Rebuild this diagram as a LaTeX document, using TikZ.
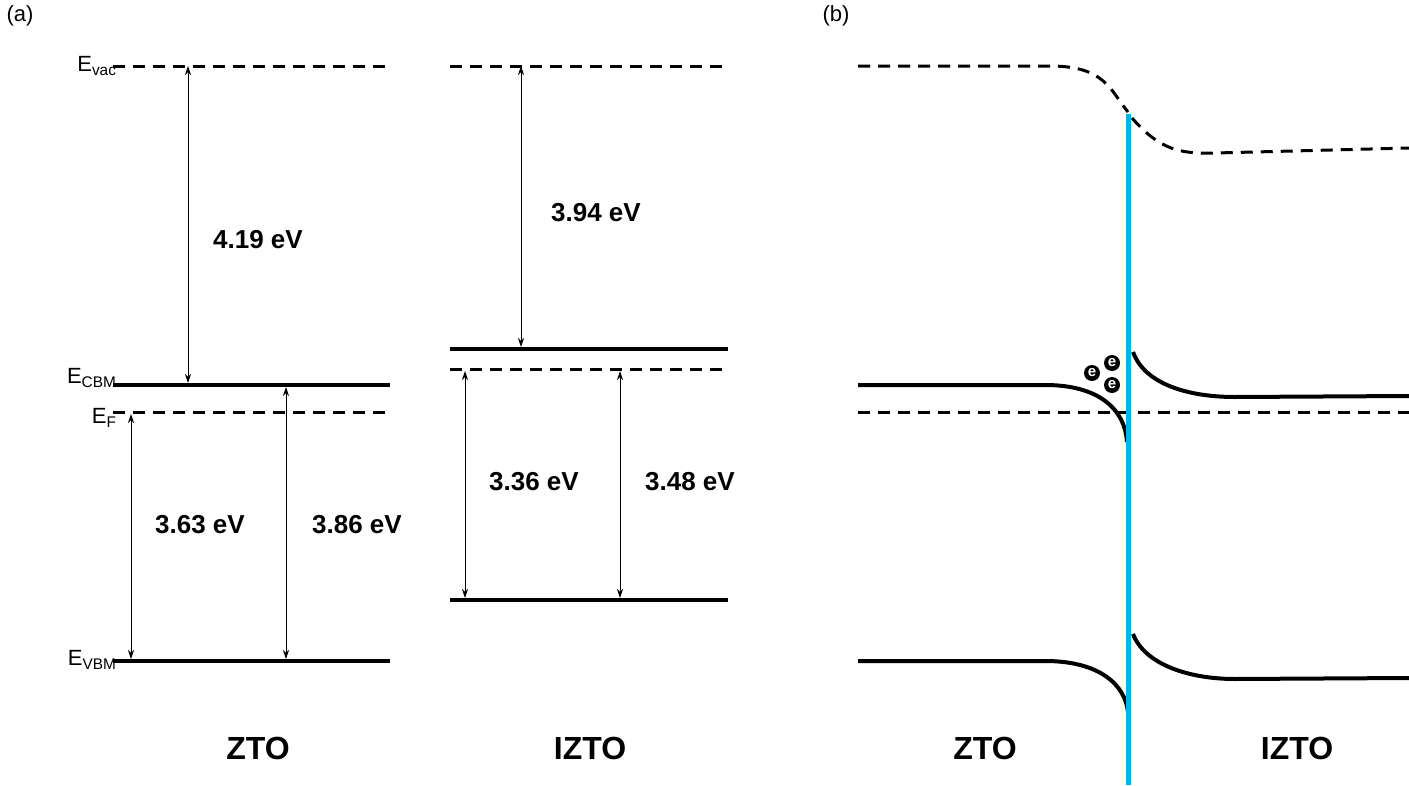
\documentclass[tikz,border=0pt]{standalone}
\usepackage{fontspec}
\setmainfont{Liberation Sans}
\usetikzlibrary{arrows.meta}
\begin{document}
\begin{tikzpicture}[x=1pt,y=-1pt,
 lvl/.style={line width=4pt},
 dlvl/.style={line width=3pt,dash pattern=on 12pt off 8pt},
 arr/.style={line width=1pt,{Stealth[length=9pt,width=6pt]}-{Stealth[length=9pt,width=6pt]}},
 val/.style={font=\fontsize{26}{28}\selectfont\bfseries},
 mat/.style={font=\fontsize{32}{34}\selectfont\bfseries},
 elab/.style={font=\fontsize{22}{24}\selectfont,anchor=east},
 pan/.style={font=\fontsize{22}{24}\selectfont}]
\useasboundingbox (0,0) rectangle (1409,785);
% panel a levels
\draw[dlvl] (113,66) -- (390,66);
\draw[dlvl] (450,66) -- (728,66);
\draw[lvl] (113,385) -- (390,385);
\draw[dlvl] (113,412) -- (390,412);
\draw[lvl] (113,661) -- (390,661);
\draw[lvl] (450,349) -- (728,349);
\draw[dlvl] (450,369) -- (728,369);
\draw[lvl] (450,600) -- (728,600);
\coordinate (a1) at (188,66); \coordinate (a2) at (188,383);
\coordinate (b1) at (131,414); \coordinate (b2) at (131,659);
\coordinate (c1) at (286,387); \coordinate (c2) at (286,659);
\coordinate (d1) at (521,66); \coordinate (d2) at (521,347);
\coordinate (e1) at (465,371); \coordinate (e2) at (465,598);
\coordinate (f1) at (620,371); \coordinate (f2) at (620,598);
\draw[arr] (a1) -- (a2); \draw[arr] (b1) -- (b2); \draw[arr] (c1) -- (c2);
\draw[arr] (d1) -- (d2); \draw[arr] (e1) -- (e2); \draw[arr] (f1) -- (f2);
\node[val] (v1) at (258,240) {4.19 eV};
\node[val] (v2) at (200,525) {3.63 eV};
\node[val] (v3) at (357,525) {3.86 eV};
\node[val] (v4) at (596,213) {3.94 eV};
\node[val] (v5) at (534,482) {3.36 eV};
\node[val] (v6) at (690,482) {3.48 eV};
\node[elab] (l1) at (120,66) {E\textsubscript{vac}};
\node[elab] (l2) at (120,378) {E\textsubscript{CBM}};
\node[elab] (l3) at (120,418) {E\textsubscript{F}};
\node[elab] (l4) at (120,660) {E\textsubscript{VBM}};
\node[pan] (pa) at (20,16) {(a)};
\node[pan] (pb) at (836,16) {(b)};
\node[mat] (m1) at (258,748) {ZTO};
\node[mat] (m2) at (590,748) {IZTO};
\node[mat] (m3) at (985,748) {ZTO};
\node[mat] (m4) at (1297,748) {IZTO};
% panel b
\draw[dlvl] (858,66) -- (1050,66) .. controls (1105,66) and (1110,90) .. (1128,112);
\draw[dlvl] (1132,118) .. controls (1160,150) and (1180,154) .. (1215,153) -- (1409,148);
\draw[dlvl] (858,412) -- (1409,412);
\draw[lvl] (858,385) -- (1045,385) .. controls (1100,385) and (1125,410) .. (1127,442);
\draw[lvl] (1133,352) .. controls (1145,385) and (1190,397) .. (1235,397) -- (1409,396);
\draw[lvl] (858,661) -- (1045,661) .. controls (1100,661) and (1125,685) .. (1128,712);
\draw[lvl] (1133,634) .. controls (1145,665) and (1190,679) .. (1235,679) -- (1409,678);
\draw[line width=5pt,color={rgb,255:red,0;green,176;blue,240}] (1128,114) -- (1128,785);
\foreach \p in {(1092,373),(1112,363),(1112,385)}
  \node[circle,fill=black,inner sep=0pt,minimum size=16pt,text=white,font=\fontsize{15}{15}\selectfont\bfseries] at \p {e};
\end{tikzpicture}
\end{document}
